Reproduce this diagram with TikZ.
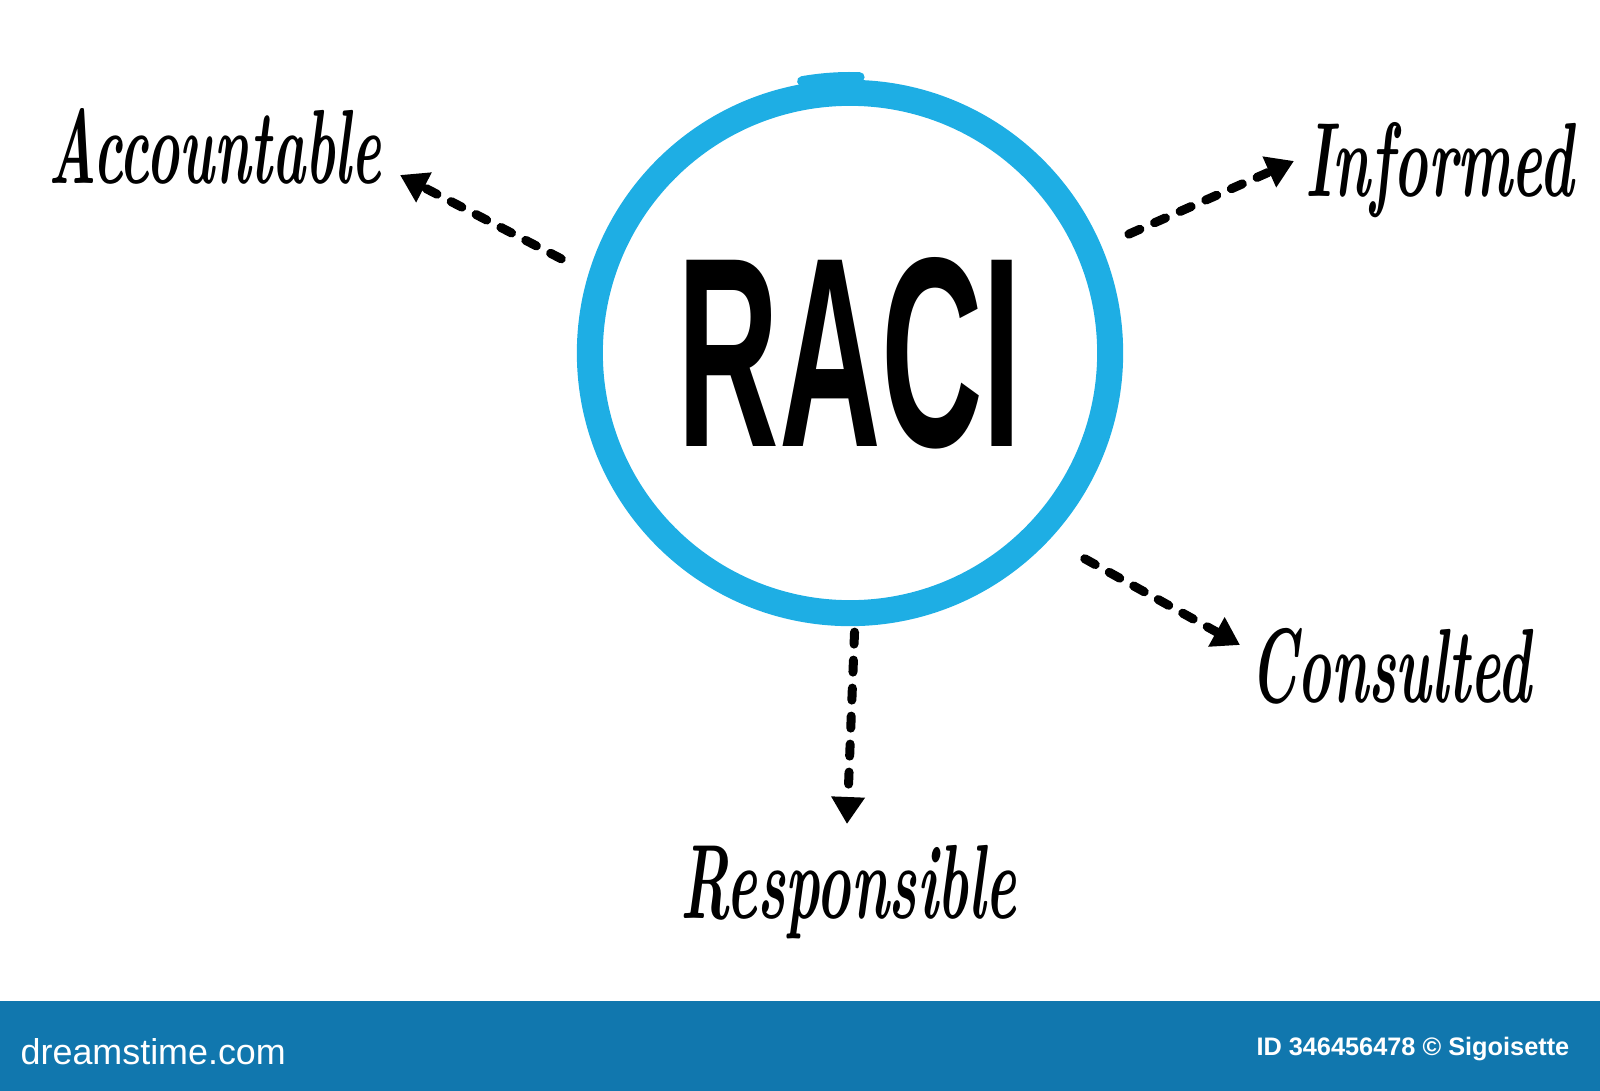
\documentclass[tikz,border=0pt]{standalone}
\usepackage{fontspec}
\newfontfamily\racifont{Liberation Sans}
\usetikzlibrary{arrows.meta, positioning, calc}
\definecolor{ringblue}{RGB}{30,174,228}
\definecolor{barblue}{RGB}{17,119,174}
\tikzset{
  ring/.style={
    circle,
    draw = ringblue,
    line width = 0.26cm,
    minimum size = 5.2cm,
    inner sep = 0
  },
  racitext/.style={
    font = \racifont\bfseries\fontsize{77}{77}\selectfont,
    xscale = 0.52,
    inner sep = 0
  },
  rolelabel/.style={
    font = \bfseries\itshape\fontsize{30}{30}\selectfont,
    anchor = base west,
    inner sep = 0
  },
  dasharrow/.style={
    line width = 0.09cm,
    dash pattern = on 0.12cm off 0.16cm,
    line cap = round,
    arrows = {-{Triangle[length=0.27cm, width=0.32cm]}}
  },
  footlogo/.style={
    font = \racifont\fontsize{10.2}{10.2}\selectfont,
    text = white,
    anchor = base west,
    inner sep = 0
  },
  footid/.style={
    font = \racifont\bfseries\fontsize{7.2}{7.2}\selectfont,
    text = white,
    anchor = base east,
    inner sep = 0
  }
}

\begin{document}
\begin{tikzpicture}[x=0.01cm, y=-0.01cm]
    \useasboundingbox (0,0) rectangle (1600,1091);
    \coordinate (acctip) at (400,175);
    \coordinate (inftip) at (1294,161);
    \coordinate (contip) at (1240,645);
    \coordinate (resptip) at (847,824);
    \node at (850,353)[ring] (ring) {};
    \draw[ringblue, line width = 0.1cm, line cap = round]
      ([shift={(-100:276)}]ring.center) arc (-100:-88:276);
    \node at (ring.center)[racitext] (raci) {RACI};
    \node at (48,184)[rolelabel, xscale = 0.53] (acc) {Accountable};
    \node at (1305,196)[rolelabel, xscale = 0.55] (inf) {Informed};
    \node at (1250,702)[rolelabel, xscale = 0.54] (con) {Consulted};
    \node at (680,918)[rolelabel, xscale = 0.55] (resp) {Responsible};
    \draw[dasharrow, shorten <= 0.31cm] (ring.163) -- (acctip);
    \draw[dasharrow, shorten <= 0.30cm] (ring.23) -- (inftip);
    \draw[dasharrow, shorten <= 0.40cm] (ring.317) -- (contip);
    \draw[dasharrow, shorten <= 0.06cm] (ring.271) -- (resptip);
    % footer
    \fill[barblue] (0,1001) rectangle (1600,1091);
    \node at (20,1064)[footlogo] (logo) {dreamstime.com};
    \node at (1570,1055)[footid] (credit) {ID 346456478 © Sigoisette};
\end{tikzpicture}
\end{document}
